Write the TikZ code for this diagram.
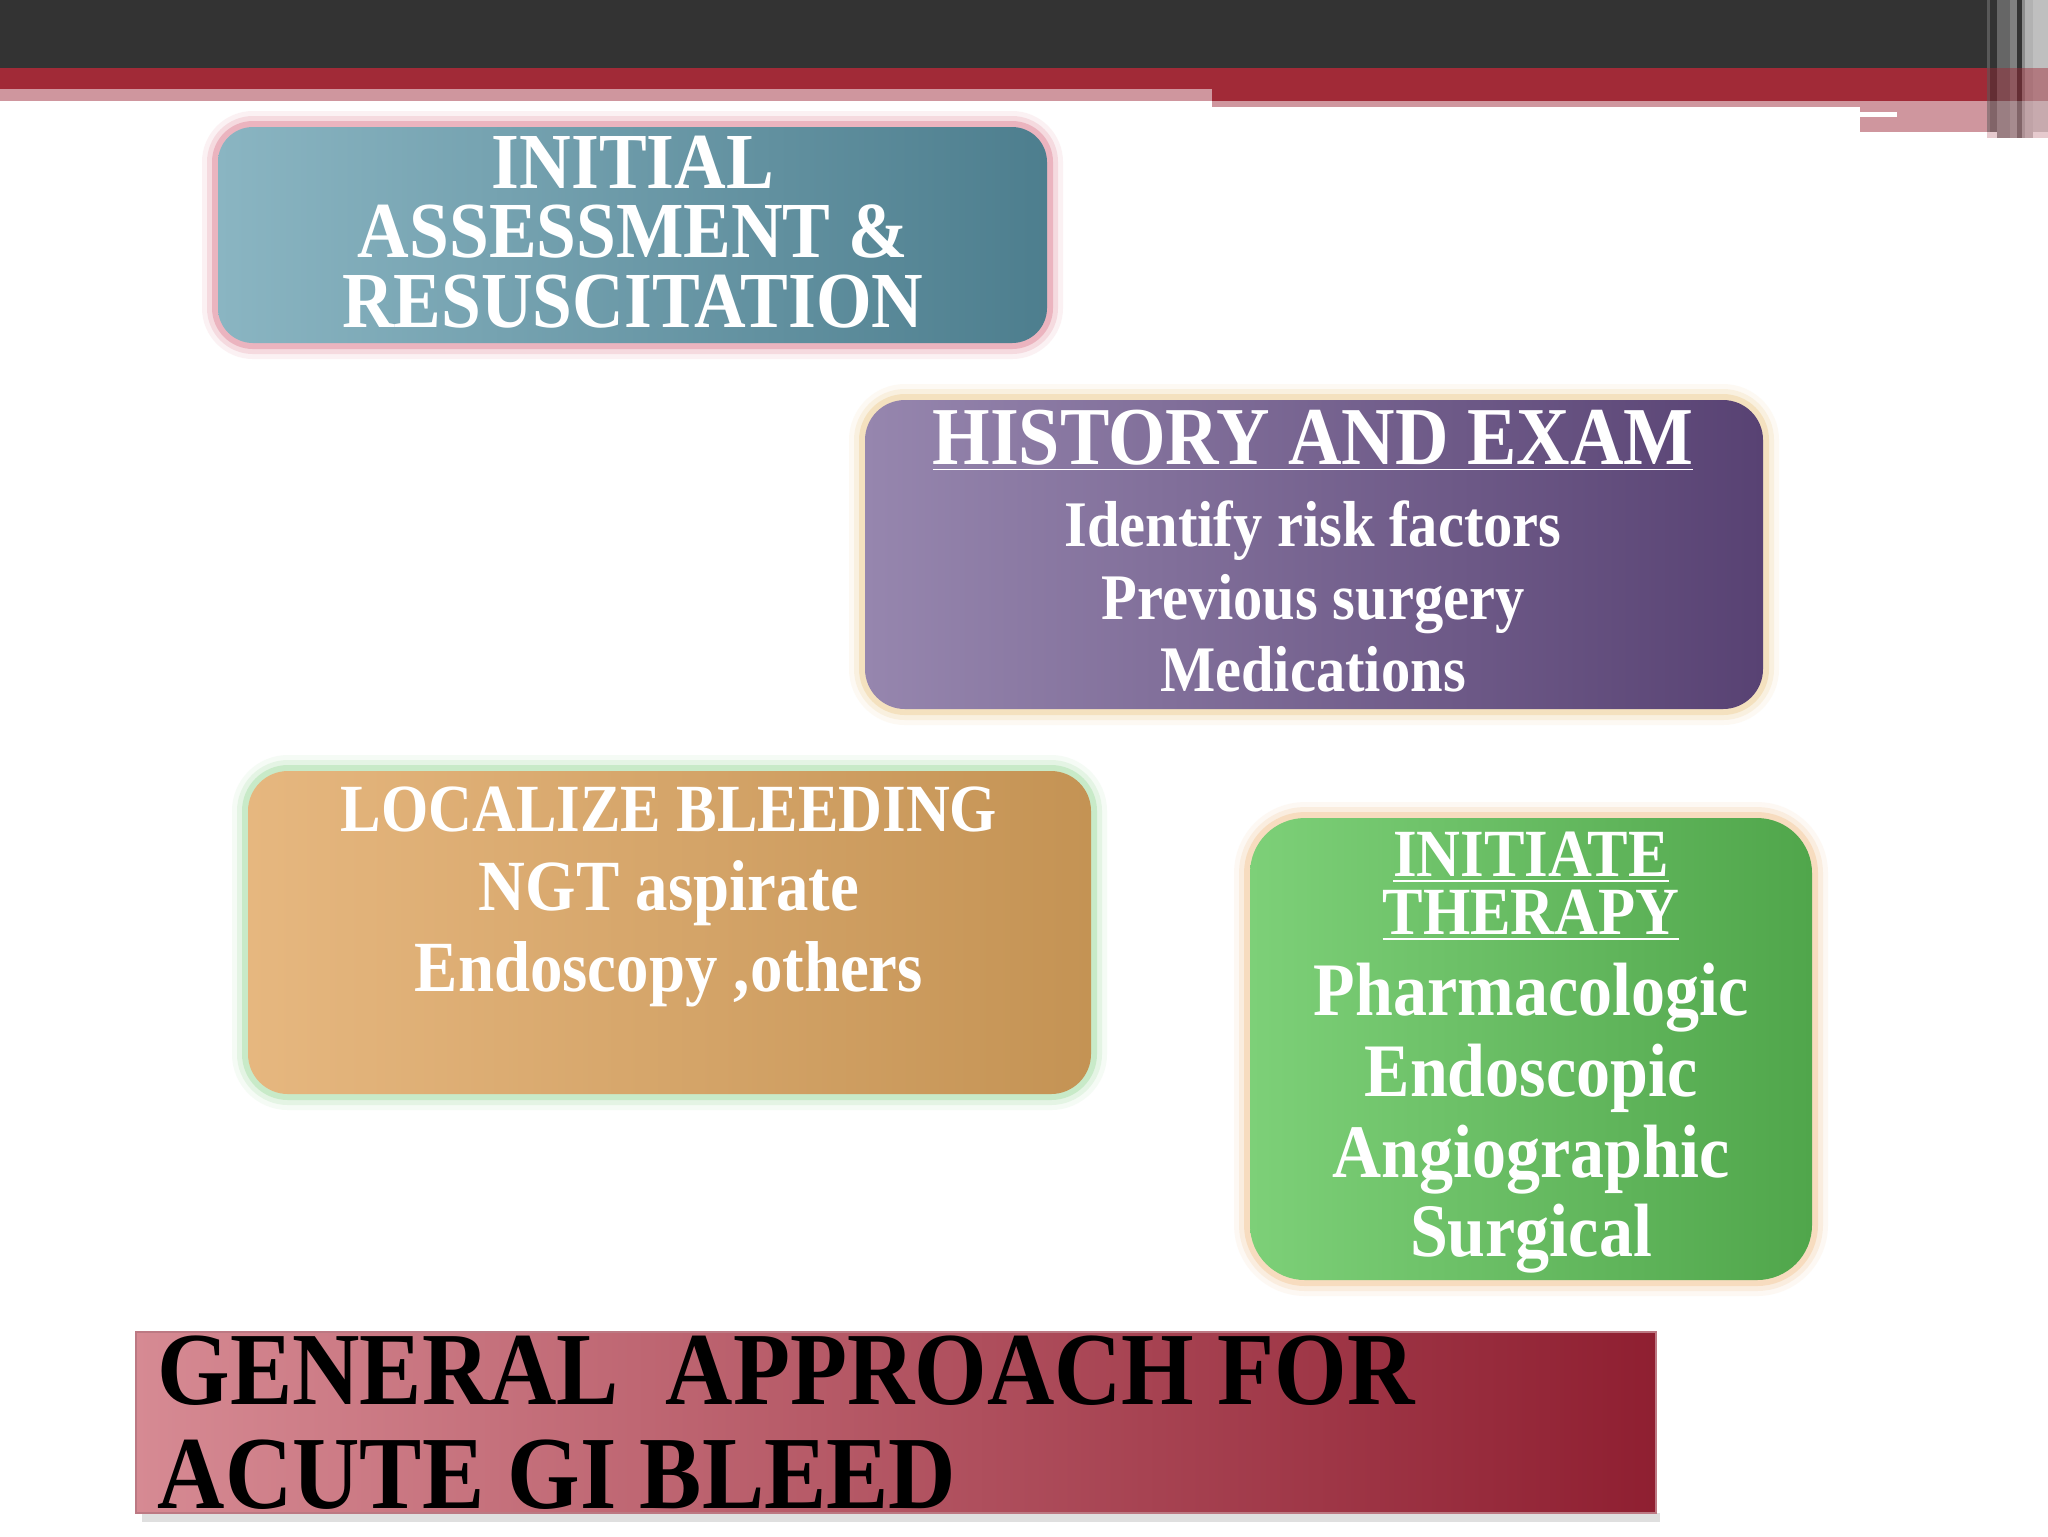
\documentclass[tikz,border=0pt]{standalone}
\usepackage{fontspec}
\setmainfont{Liberation Serif}
\newfontfamily\condfont[FakeStretch=0.9]{Liberation Serif}
\usepackage{tikz}
\usetikzlibrary{positioning, calc}

\definecolor{barDark}{HTML}{333333}
\definecolor{barRed}{HTML}{A12A37}
\definecolor{barPink}{HTML}{CF969E}
\definecolor{tealL}{HTML}{8AB5C2}
\definecolor{tealR}{HTML}{4D7E8E}
\definecolor{tealGlow}{HTML}{E8A5B2}
\definecolor{purpL}{HTML}{9686AE}
\definecolor{purpR}{HTML}{584273}
\definecolor{purpGlow}{HTML}{F3DCB2}
\definecolor{oranL}{HTML}{E6B77F}
\definecolor{oranR}{HTML}{C49354}
\definecolor{oranGlow}{HTML}{BDE7BD}
\definecolor{grnL}{HTML}{7DD078}
\definecolor{grnR}{HTML}{50A64B}
\definecolor{grnGlow}{HTML}{F6D6B2}
\definecolor{titleL}{HTML}{D68A93}
\definecolor{titleR}{HTML}{8F1F31}

\tikzset{
  glowbox/.style n args={4}{rounded corners=#1, left color=#2, right color=#3,
    inner sep=0pt, outer sep=0pt,
    preaction={draw=#4, line width=3.2mm, opacity=.15},
    preaction={draw=#4, line width=2.2mm, opacity=.3},
    preaction={draw=#4, line width=1.2mm, opacity=.7}},
  boxtxt/.style={text=white, inner sep=0pt, anchor=base,
    font=\condfont\bfseries\fontsize{#1}{#1}\selectfont},
  titletxt/.style={text=black, inner sep=0pt, anchor=base west,
    font=\condfont\bfseries\fontsize{29.5}{29.5}\selectfont}
}

\begin{document}
\begin{tikzpicture}[x=0.1mm, y=-0.1mm]

    \useasboundingbox[fill=white] (0,0) rectangle (2048,1536);

    % --- TOP BANNER ---
    \fill[barDark] (0,0) rectangle (1987,68);
    \fill[barRed] (0,68) rectangle (1987,89);
    \fill[barRed] (1212,89) rectangle (1987,101);
    \fill[barPink] (0,89) rectangle (1212,101);
    \fill[barPink] (1212,101) rectangle (1860,107);
    \fill[barPink] (1860,101) rectangle (1987,132);
    \fill[white] (1860,112) rectangle (1897,117);

    % right edge stripes
    \fill[gray!70!black] (1987,0) rectangle (1990,132);
    \fill[barDark] (1990,0) rectangle (1997,132);
    \fill[gray!80!black] (1997,0) rectangle (2010,138);
    \fill[gray] (2010,0) rectangle (2017,138);
    \fill[barDark] (2017,0) rectangle (2022,138);
    \fill[gray!90] (2022,0) rectangle (2025,138);
    \fill[gray!60] (2025,0) rectangle (2033,138);
    \fill[gray!50] (2033,0) rectangle (2048,132);
    \fill[barRed, opacity=.45] (1987,68) rectangle (2048,101);
    \fill[barPink, opacity=.5] (1987,101) rectangle (2048,138);

    % --- STEP BOXES ---
    \node[glowbox={3.5mm}{tealL}{tealR}{tealGlow}, minimum width=82.9mm,
          minimum height=21.6mm] (assess) at (632.5,235) {};
    \node[glowbox={4mm}{purpL}{purpR}{purpGlow}, minimum width=89.8mm,
          minimum height=30.9mm] (history) at (1314,554.5) {};
    \node[glowbox={4mm}{oranL}{oranR}{oranGlow}, minimum width=84.3mm,
          minimum height=32.3mm] (localize) at (669.5,932.5) {};
    \node[glowbox={5.5mm}{grnL}{grnR}{grnGlow}, minimum width=56.2mm,
          minimum height=46.2mm] (therapy) at (1531,1049) {};

    % initial assessment
    \node[boxtxt=22.6] (assess1) at (633,188) {INITIAL};
    \node[boxtxt=22.6] (assess2) at (633,257) {ASSESSMENT \&};
    \node[boxtxt=22.6] (assess3) at (633,327) {RESUSCITATION};

    % history and exam
    \node[boxtxt=23.4] (hist0) at (1313,464) {\underline{HISTORY AND EXAM}};
    \node[boxtxt=18.5] (hist1) at (1313,546) {Identify risk factors};
    \node[boxtxt=18.5] (hist2) at (1313,619) {Previous surgery};
    \node[boxtxt=18.5] (hist3) at (1313,691) {Medications};

    % localize bleeding
    \node[boxtxt=19.2] (loc0) at (669,831) {LOCALIZE BLEEDING};
    \node[boxtxt=20.5] (loc1) at (669,910) {NGT aspirate};
    \node[boxtxt=20.5] (loc2) at (669,991) {Endoscopy ,others};

    % initiate therapy
    \node[boxtxt=19.2] (ther0) at (1531,876) {\underline{INITIATE}};
    \node[boxtxt=19.2] (ther1) at (1531,934) {\underline{THERAPY}};
    \node[boxtxt=21.5] (ther2) at (1531,1015) {Pharmacologic};
    \node[boxtxt=21.5] (ther3) at (1531,1096) {Endoscopic};
    \node[boxtxt=21.5] (ther4) at (1531,1177) {Angiographic};
    \node[boxtxt=21.5] (ther5) at (1531,1256) {Surgical};

    % --- TITLE BAR ---
    \fill[gray!25] (142,1513) rectangle (1660,1522);
    \node[left color=titleL, right color=titleR, draw=titleR!60, line width=0.2mm,
          inner sep=0pt, outer sep=0pt, minimum width=152mm,
          minimum height=18.1mm] (titlebar) at (896,1422.5) {};
    \node[titletxt] (title1) at (157,1404) {GENERAL~ APPROACH FOR};
    \node[titletxt] (title2) at (157,1508) {ACUTE GI BLEED};

\end{tikzpicture}
\end{document}
